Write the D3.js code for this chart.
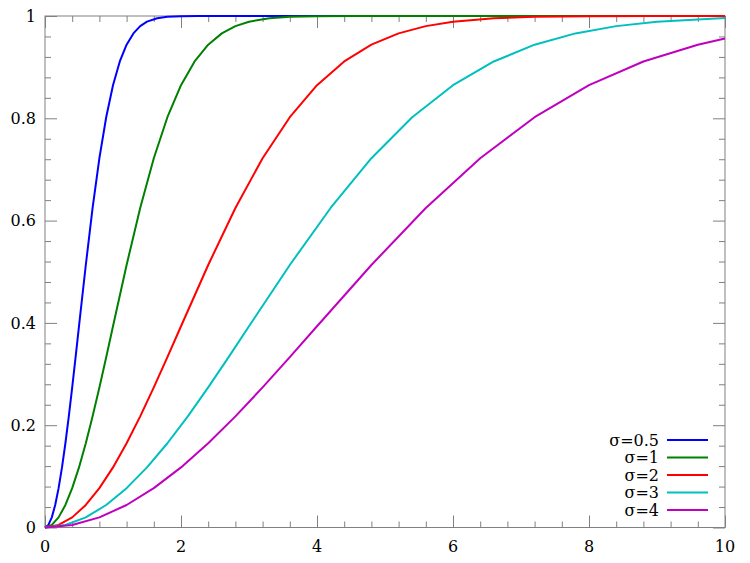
<!DOCTYPE html>
<html><head><meta charset="utf-8">
<script src="https://cdn.jsdelivr.net/npm/d3@7"></script>
<style>body{margin:0;background:#fff}svg{display:block}text{font-family:"DejaVu Serif",serif;font-size:16px;fill:#000}</style>
</head><body>
<script>
// Series data (x, y pairs)
const labels = ["σ=0.5", "σ=1", "σ=2", "σ=3", "σ=4"];
const colors = ["#0000ff", "#008000", "#ff0000", "#00bfbf", "#bf00bf"];

const x05 = [0,0.05,0.1,0.15,0.2,0.25,0.3,0.35,0.4,0.45,0.5,0.6,0.7,0.8,0.9,1.0,1.1,1.2,1.3,1.4,1.5,1.65,1.8,2.0,2.25,2.5,10];
const y05 = [0,0.005,0.0198,0.044,0.0769,0.1175,0.1647,0.2173,0.2739,0.333,0.3935,0.5132,0.6247,0.722,0.8021,0.8647,0.9111,0.9439,0.966,0.9802,0.9889,0.9957,0.9985,0.9997,1,1,1];

const x1 = [0,0.1,0.2,0.3,0.4,0.5,0.6,0.7,0.8,0.9,1.0,1.2,1.4,1.6,1.8,2.0,2.2,2.4,2.6,2.8,3.0,3.3,3.6,4.0,4.5,5,10];
const y1 = [0,0.005,0.0198,0.044,0.0769,0.1175,0.1647,0.2173,0.2739,0.333,0.3935,0.5132,0.6247,0.722,0.8021,0.8647,0.9111,0.9439,0.966,0.9802,0.9889,0.9957,0.9985,0.9997,1,1,1];

const x2 = [0,0.2,0.4,0.6,0.8,1.0,1.2,1.4,1.6,1.8,2.0,2.4,2.8,3.2,3.6,4.0,4.4,4.8,5.2,5.6,6.0,6.6,7.2,8.0,9.0,10];
const y2 = [0,0.005,0.0198,0.044,0.0769,0.1175,0.1647,0.2173,0.2739,0.333,0.3935,0.5132,0.6247,0.722,0.8021,0.8647,0.9111,0.9439,0.966,0.9802,0.9889,0.9957,0.9985,0.9997,1,1];

const x3 = [0,0.3,0.6,0.9,1.2,1.5,1.8,2.1,2.4,2.7,3.0,3.6,4.2,4.8,5.4,6.0,6.6,7.2,7.8,8.4,9.0,10];
const y3 = [0,0.005,0.0198,0.044,0.0769,0.1175,0.1647,0.2173,0.2739,0.333,0.3935,0.5132,0.6247,0.722,0.8021,0.8647,0.9111,0.9439,0.966,0.9802,0.9889,0.9961];

const x4 = [0,0.4,0.8,1.2,1.6,2.0,2.4,2.8,3.2,3.6,4.0,4.8,5.6,6.4,7.2,8.0,8.8,9.6,10];
const y4 = [0,0.005,0.0198,0.044,0.0769,0.1175,0.1647,0.2173,0.2739,0.333,0.3935,0.5132,0.6247,0.722,0.8021,0.8647,0.9111,0.9439,0.9561];

const xTicks = [0,2,4,6,8,10];
const yTicks = [0,0.2,0.4,0.6,0.8,1];
const yTickLabels = ["0","0.2","0.4","0.6","0.8","1"];

const seriesX = [x05, x1, x2, x3, x4];
const seriesY = [y05, y1, y2, y3, y4];

const W = 750, H = 563;
const L = 45, R = 725, T = 16, B = 527.5;
const axisColor = "#808080";

const svg = d3.select("body").append("svg").attr("width", W).attr("height", H);
const x = d3.scaleLinear().domain([0,10]).range([L,R]);
const y = d3.scaleLinear().domain([0,1]).range([B,T]);

const xMinor = d3.range(0, 10.001, 0.4).filter(v => !xTicks.some(t => Math.abs(t-v)<1e-6));
const yMinor = d3.range(0, 1.0001, 0.04).filter(v => !yTicks.some(t => Math.abs(t-v)<1e-6));

function styleAxis(g){
  g.select(".domain").remove();
  g.selectAll(".tick line").attr("stroke", axisColor).attr("stroke-width", 1);
}
// bottom
svg.append("g").attr("transform",`translate(0,${B})`)
  .call(d3.axisTop(x).tickValues(xTicks).tickSize(12).tickFormat(""))
  .call(styleAxis);
svg.append("g").attr("transform",`translate(0,${B})`)
  .call(d3.axisTop(x).tickValues(xMinor).tickSize(6).tickFormat(""))
  .call(styleAxis);
// top
svg.append("g").attr("transform",`translate(0,${T})`)
  .call(d3.axisBottom(x).tickValues(xTicks).tickSize(12).tickFormat(""))
  .call(styleAxis);
svg.append("g").attr("transform",`translate(0,${T})`)
  .call(d3.axisBottom(x).tickValues(xMinor).tickSize(6).tickFormat(""))
  .call(styleAxis);
// left
svg.append("g").attr("transform",`translate(${L},0)`)
  .call(d3.axisRight(y).tickValues(yTicks).tickSize(12).tickFormat(""))
  .call(styleAxis);
svg.append("g").attr("transform",`translate(${L},0)`)
  .call(d3.axisRight(y).tickValues(yMinor).tickSize(6).tickFormat(""))
  .call(styleAxis);
// right
svg.append("g").attr("transform",`translate(${R},0)`)
  .call(d3.axisLeft(y).tickValues(yTicks).tickSize(12).tickFormat(""))
  .call(styleAxis);
svg.append("g").attr("transform",`translate(${R},0)`)
  .call(d3.axisLeft(y).tickValues(yMinor).tickSize(6).tickFormat(""))
  .call(styleAxis);

// frame
svg.append("rect").attr("x",L).attr("y",T).attr("width",R-L).attr("height",B-T)
  .attr("fill","none").attr("stroke",axisColor).attr("stroke-width",1);

// tick labels
svg.append("g").selectAll("text").data(xTicks).join("text")
  .attr("x", d => x(d)).attr("y", B+24).attr("text-anchor","middle").text(d => d);
svg.append("g").selectAll("text").data(yTicks).join("text")
  .attr("x", L-9).attr("y", d => y(d)).attr("dy","0.36em").attr("text-anchor","end")
  .text((d,i) => yTickLabels[i]);

// curves
const line = d3.line().x(d => x(d[0])).y(d => y(d[1]));
seriesX.forEach((xs, i) => {
  const pts = xs.map((v, j) => [v, seriesY[i][j]]);
  svg.append("path").datum(pts).attr("d", line)
    .attr("fill","none").attr("stroke", colors[i]).attr("stroke-width", 2)
    .attr("stroke-linejoin","round");
});

// legend
const leg = svg.append("g");
labels.forEach((lab, i) => {
  const yy = 440 + i*17.5;
  leg.append("text").attr("x", 659).attr("y", yy).attr("dy","0.36em")
    .attr("text-anchor","end").text(lab);
  leg.append("line").attr("x1", 667).attr("x2", 708).attr("y1", yy).attr("y2", yy)
    .attr("stroke", colors[i]).attr("stroke-width", 2);
});
</script>
</body></html>
